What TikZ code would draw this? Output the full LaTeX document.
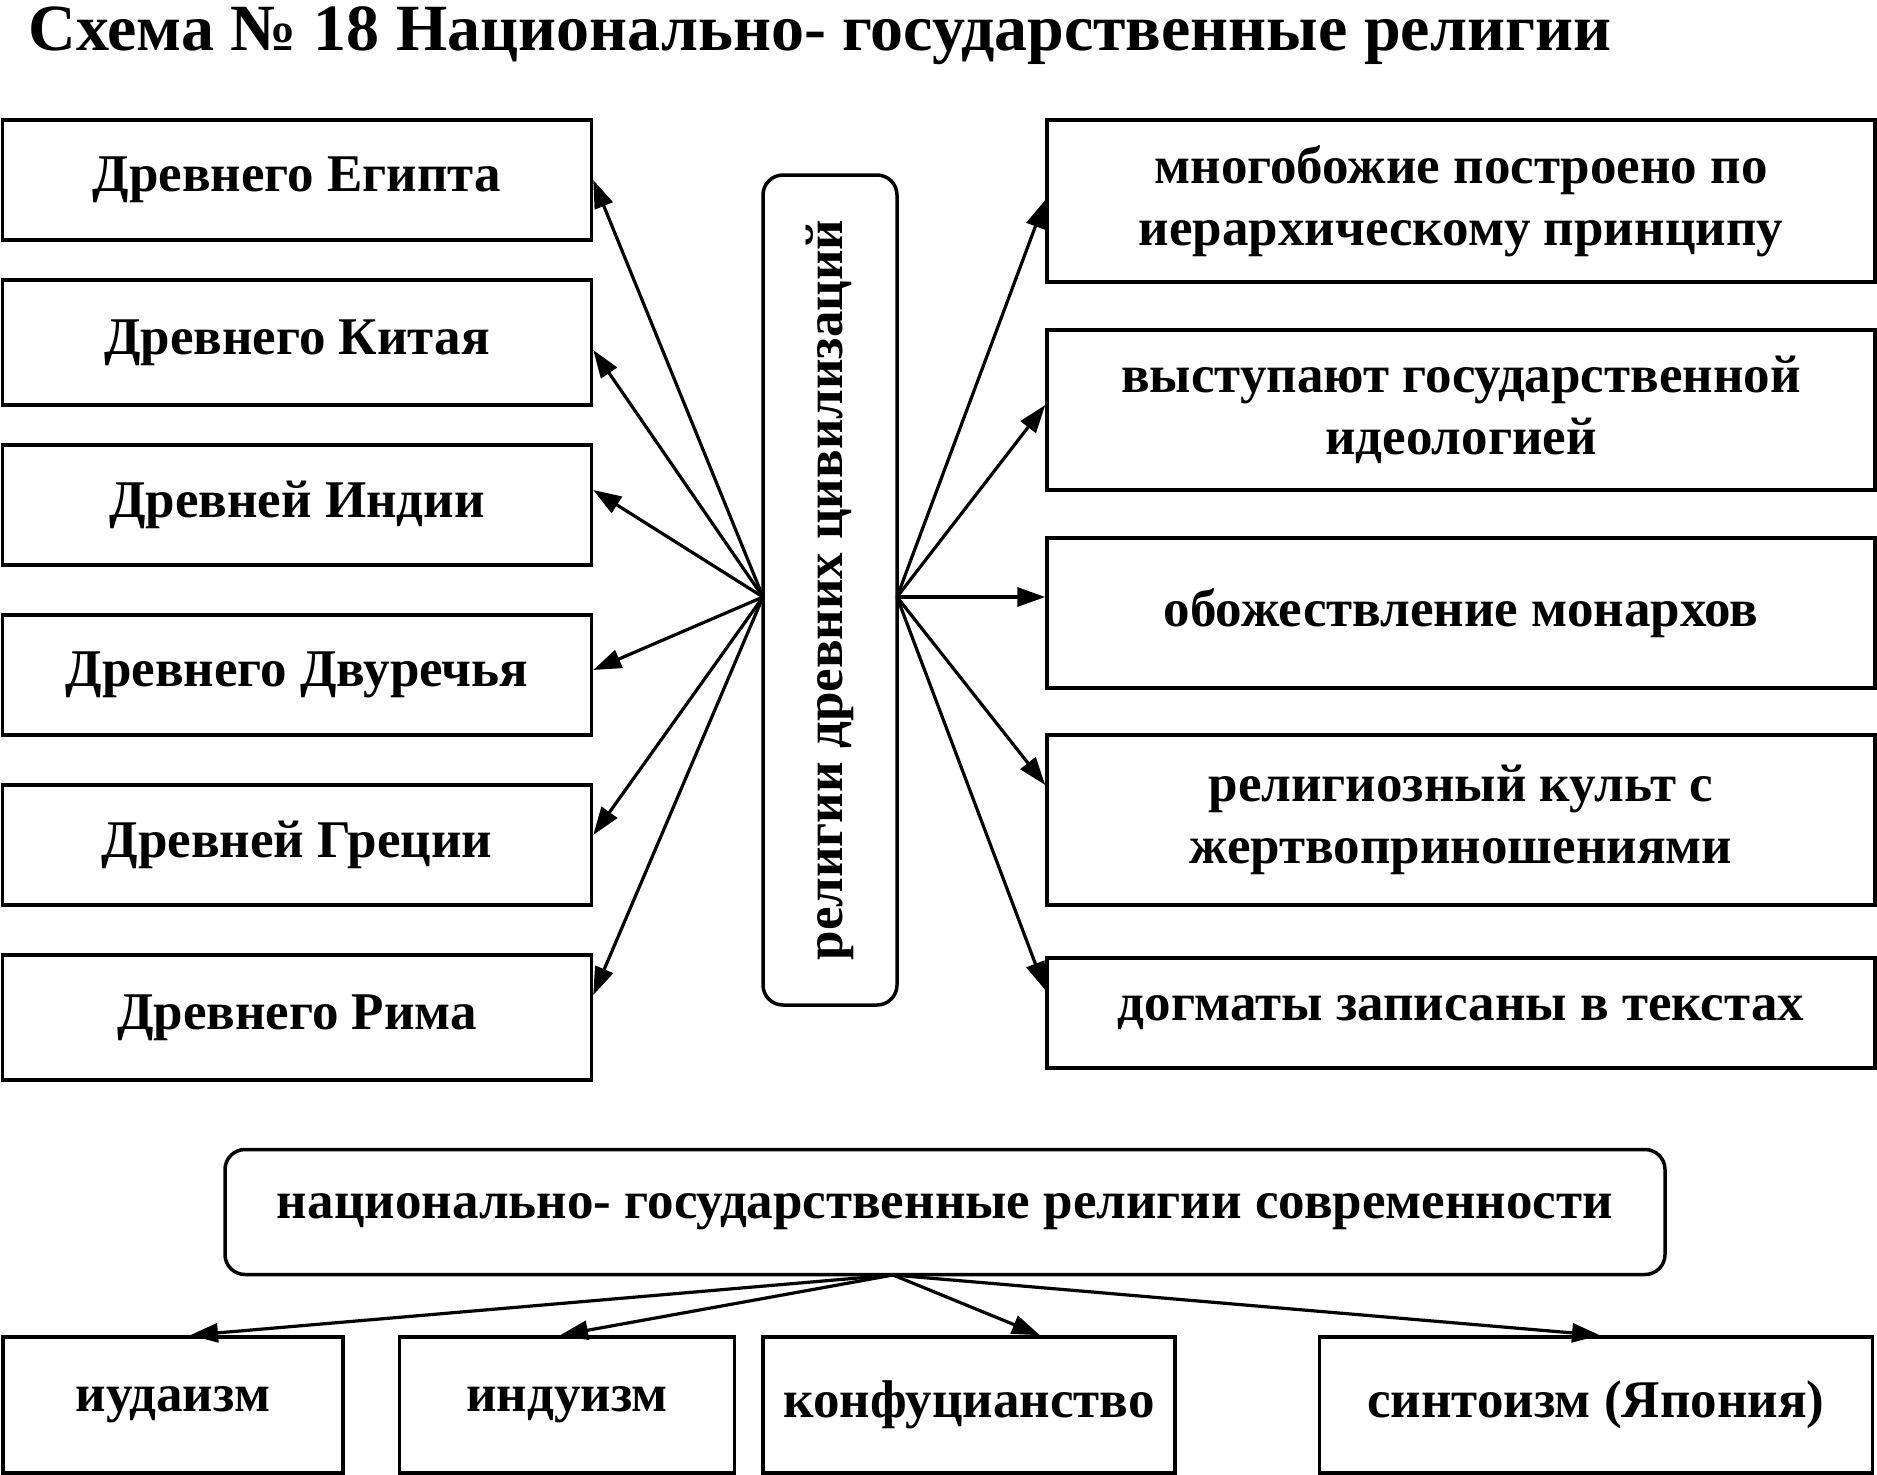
\documentclass[tikz,border=0pt]{standalone}
\usepackage{fontspec}
\setmainfont{Liberation Serif}
\usetikzlibrary{arrows.meta}
\begin{document}
\begin{tikzpicture}[x=1pt,y=-1pt,
 bx/.style={draw,line width=3.5pt,inner sep=0pt,font=\fontsize{53}{62}\bfseries\selectfont,align=center},
 ar/.style={line width=3.2pt,-{Triangle[length=28pt,width=19pt]}}]
\useasboundingbox (0,0) rectangle (1877,1475);
\node[anchor=west,font=\fontsize{66}{74}\bfseries\selectfont] (t) at (25,36) {Схема № 18 Национально- государственные религии};
\foreach \n/\a/\b/\t in {l1/120/240/Древнего Египта,l2/280/405/Древнего Китая,l3/445/565/Древней Индии,l4/615/735/Древнего Двуречья,l5/785/905/Древней Греции,l6/955/1080/Древнего Рима}
 \node[bx,minimum width=589pt,minimum height={\b-\a}] (\n) at (297,{(\a+\b)/2}) {\t};
\foreach \n/\a/\b/\t in {r1/120/282/{многобожие построено по\\иерархическому принципу},r2/330/490/{выступают государственной\\идеологией},r3/538/688/обожествление монархов,r4/735/905/{религиозный культ с\\жертвоприношениями},r5/958/1068/догматы записаны в текстах}
 \node[bx,minimum width=828pt,minimum height={\b-\a}] (\n) at (1461,{(\a+\b)/2}) {\t};
\node[bx,rounded corners=20pt,minimum width=134pt,minimum height=830pt] (c) at (830,590) {};
\node[font=\fontsize{53}{62}\bfseries\selectfont,rotate=90] at (c) {религии древних цивилизаций};
\coordinate (hl) at (763,597); \coordinate (hr) at (897,597);
\foreach \n/\y in {l1/180,l2/350,l3/490,l4/670,l5/835,l6/995} \draw[ar] (hl) -- (\n.east |- 0,\y);
\foreach \n/\y in {r1/200,r2/405,r3/597,r4/785,r5/990} \draw[ar] (hr) -- (\n.west |- 0,\y);
\node[bx,rounded corners=20pt,minimum width=1440pt,minimum height=125pt] (b) at (945,1212) {национально- государственные религии современности};
\foreach \n/\x/\w/\t in {b1/173/340/иудаизм,b2/567/335/индуизм,b3/969/412/конфуцианство,b4/1596/553/синтоизм (Япония)}
 \node[bx,minimum width=\w pt,minimum height=136pt] (\n) at (\x,1405) {\t};
\coordinate (hb) at (893,1275);
\foreach \n/\x in {b1/190,b2/560,b3/1040,b4/1600} \draw[ar] (hb) -- (\n.north -| \x,0);
\end{tikzpicture}
\end{document}
